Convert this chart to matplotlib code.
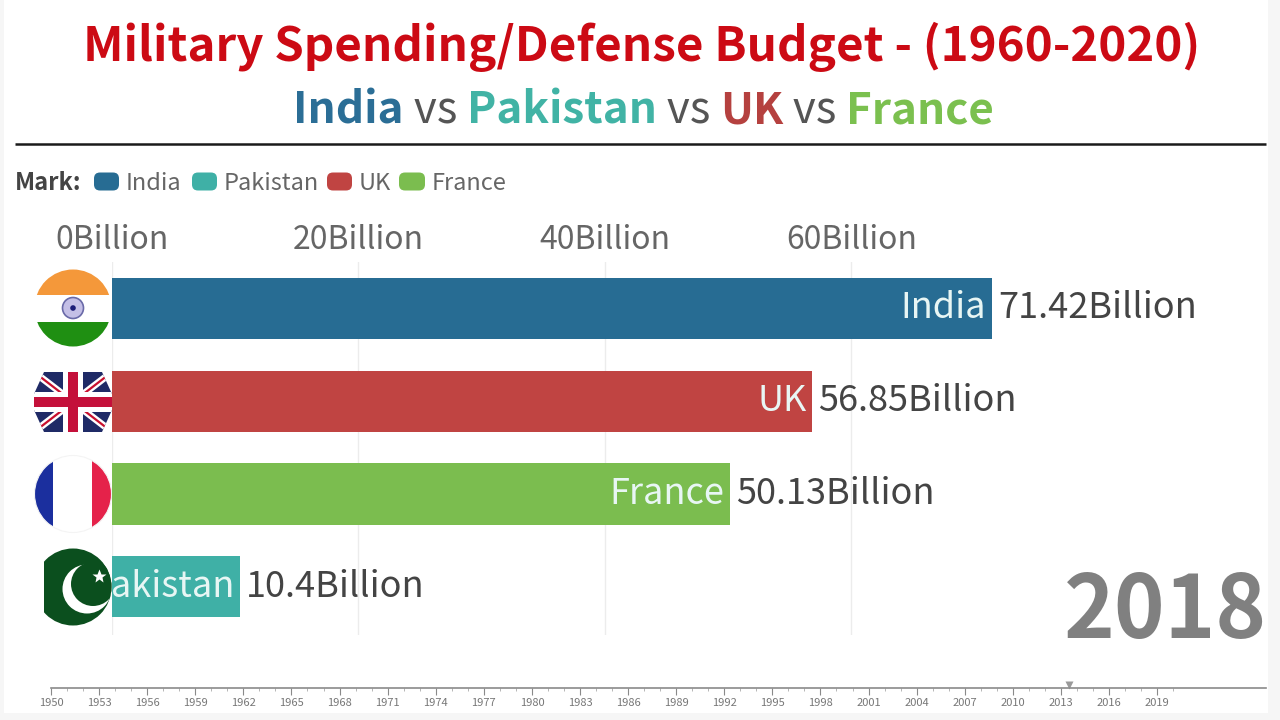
import matplotlib
matplotlib.use('Agg')
import matplotlib.pyplot as plt
from matplotlib.patches import Circle, FancyBboxPatch, Polygon, Rectangle

FONT = ['Noto Sans CJK SC', 'DejaVu Sans']
plt.rcParams['font.family'] = FONT

countries = ['India', 'UK', 'France', 'Pakistan']
spending = [71.42, 56.85, 50.13, 10.4]
value_labels = ['71.42Billion', '56.85Billion', '50.13Billion', '10.4Billion']
bar_colors = ['#276C93', '#C04442', '#7BBD4F', '#3FB0A6']

legend_names = ['India', 'Pakistan', 'UK', 'France']
legend_colors = ['#276C93', '#3FB0A6', '#C04442', '#7BBD4F']

axis_ticks = [0, 20, 40, 60]
axis_labels = ['0Billion', '20Billion', '40Billion', '60Billion']

timeline_years = list(range(1950, 2021, 3))
timeline_minor = list(range(1950, 2021))
timeline_pointer = 2013.5
current_year = '2018'

W, H = 1280, 720


def px_axes(fig, left, top, right, bottom, **kw):
    return fig.add_axes([left / W, 1 - bottom / H, (right - left) / W, (bottom - top) / H], **kw)


fig = plt.figure(figsize=(W / 100, H / 100), dpi=100, facecolor='#f6f6f6')

# overlay in pixel coordinates for the title block, legend and flags
bg = fig.add_axes([0, 0, 1, 1])
bg.set_xlim(0, W)
bg.set_ylim(H, 0)
bg.axis('off')
bg.add_patch(Rectangle((4, 0), 1264, 713, fc='white', ec='none'))

bg.text(642, 47, 'Military Spending/Defense Budget - (1960-2020)', ha='center', va='center',
        fontsize=34.2, fontweight='bold', color='#CC0A14')

# subtitle is built piece by piece so each word keeps its own colour
pieces = [('India', '#2B6E96', 'bold'), (' vs ', '#555555', 'normal'),
          ('Pakistan', '#41B3A5', 'bold'), (' vs ', '#555555', 'normal'),
          ('UK', '#B5413F', 'bold'), (' vs ', '#555555', 'normal'),
          ('France', '#7BC04F', 'bold')]
x = 293
for word, color, weight in pieces:
    t = bg.text(x, 110, word.replace(' ', '\u00a0'), ha='left', va='center', fontsize=31.7,
                fontweight=weight, color=color)
    fig.canvas.draw()
    x += t.get_window_extent().width

bg.plot([15, 1266], [144, 144], color='#1a1a1a', lw=1.8, solid_capstyle='butt')

# legend row
bg.text(15, 183, 'Mark:', ha='left', va='center', fontsize=17, fontweight='bold', color='#444444')
swatch_x = [94, 192, 327, 399]
swatch_w = [25, 25, 25, 26]
for sx, sw, name, color in zip(swatch_x, swatch_w, legend_names, legend_colors):
    bg.add_patch(FancyBboxPatch((sx, 172.5), sw, 18, boxstyle='round,pad=0,rounding_size=6',
                                fc=color, ec='none'))
    bg.text(sx + sw + 7, 183, name, ha='left', va='center', fontsize=17, color='#666666')

# main bar chart
ax = px_axes(fig, 112, 262, 1266, 635, facecolor='none')
positions = list(range(len(countries)))
bars = ax.barh(positions, spending, height=0.66, color=bar_colors, zorder=3)
ax.set_xlim(0, (1266 - 112) / 12.32)
ax.set_ylim(3.52, -0.5)
ax.set_yticks([])
ax.xaxis.tick_top()
ax.set_xticks(axis_ticks)
ax.set_xticklabels(axis_labels, fontsize=23, color='#666666')
ax.tick_params(axis='x', length=0, pad=4)
ax.grid(axis='x', color='#ececec', lw=1, zorder=0)
for spine in ax.spines.values():
    spine.set_visible(False)

for bar, pos, name, value, label in zip(bars, positions, countries, spending, value_labels):
    t = ax.text(value - 0.45, pos, name, ha='right', va='center', fontsize=26,
                color='#e8f6f4', zorder=4, clip_on=True)
    t.set_clip_path(bar)
    ax.text(value + 0.5, pos, label, ha='left', va='center', fontsize=26,
            color='#444444', zorder=4)

bg.text(1267, 613, current_year, ha='right', va='center', fontsize=62, fontweight='bold',
        color='#808080')


def flag_circle(cy, cx=73, r=38.5):
    return Circle((cx, cy), r, transform=bg.transData)


def add_clipped(patch, clip, zorder=1):
    patch.set_zorder(zorder)
    bg.add_patch(patch)
    patch.set_clip_path(clip)


# India
clip = flag_circle(308)
add_clipped(Rectangle((30, 265), 90, 30, fc='#F4983A', ec='none'), clip)
add_clipped(Rectangle((30, 295), 90, 27, fc='white', ec='none'), clip)
add_clipped(Rectangle((30, 322), 90, 30, fc='#1F8F12', ec='none'), clip)
bg.add_patch(Circle((73, 308), 10.5, fc='#c4bfe6', ec='#6a6aa8', lw=1.2))
bg.add_patch(Circle((73, 308), 2.8, fc='#1c1c78', ec='none'))

# UK, the field is cut to a flattened octagon
top, bot = 372, 432
clip = Polygon([(44, top), (102, top), (112, 394), (112, 410), (102, bot), (44, bot), (34, 410), (34, 394)],
               transform=bg.transData)
add_clipped(Rectangle((30, top), 90, bot - top, fc='#1F2A66', ec='none'), clip)
for (x0, y0, x1, y1) in [(34, top, 112, bot), (34, bot, 112, top)]:
    line, = bg.plot([x0, x1], [y0, y1], color='white', lw=5, solid_capstyle='butt', zorder=1.1)
    line.set_clip_path(clip)
    line, = bg.plot([x0, x1], [y0, y1], color='#C8102E', lw=1.6, solid_capstyle='butt', zorder=1.2)
    line.set_clip_path(clip)
add_clipped(Rectangle((63, top), 20, bot - top, fc='white', ec='none'), clip, 1.3)
add_clipped(Rectangle((30, 392), 90, 20, fc='white', ec='none'), clip, 1.3)
add_clipped(Rectangle((68, top), 10, bot - top, fc='#C4103A', ec='none'), clip, 1.4)
add_clipped(Rectangle((30, 397), 90, 10, fc='#C4103A', ec='none'), clip, 1.4)

# France, with a faint ring because the middle stripe is white
clip = flag_circle(494)
add_clipped(Rectangle((30, 450), 23, 90, fc='#1B2F9E', ec='none'), clip)
add_clipped(Rectangle((53, 450), 39, 90, fc='white', ec='none'), clip)
add_clipped(Rectangle((92, 450), 25, 90, fc='#E5224A', ec='none'), clip)
bg.add_patch(Circle((73, 494), 38.5, fc='none', ec='#f4f4f4', lw=0.8, zorder=1.1))

# Pakistan
clip = flag_circle(587)
add_clipped(Rectangle((44, 545), 75, 85, fc='#0B4F1E', ec='none'), clip)
add_clipped(Circle((87, 589), 24.5, fc='white', ec='none'), clip, 1.1)
add_clipped(Circle((93, 584), 22, fc='#0B4F1E', ec='none'), clip, 1.2)
bg.plot([99], [576], marker='*', ms=10, color='white', mec='none', ls='none', zorder=1.3)

# year slider along the bottom
tl = px_axes(fig, 51, 660, 1266, 688, facecolor='none')
tl.set_xlim(1950, 1950 + (1266 - 51) / 16.03)
tl.set_ylim(0, 1)
tl.set_yticks([])
for name in ['top', 'left', 'right']:
    tl.spines[name].set_visible(False)
tl.spines['bottom'].set_color('#8a8a8a')
tl.spines['bottom'].set_linewidth(1.2)
tl.set_xticks(timeline_years)
tl.set_xticklabels([str(y) for y in timeline_years], fontsize=8, color='#777777')
tl.set_xticks(timeline_minor, minor=True)
tl.tick_params(axis='x', which='major', length=5, width=0.8, color='#8a8a8a', pad=2)
tl.tick_params(axis='x', which='minor', length=2, width=0.6, color='#aaaaaa')
tl.plot([timeline_pointer], [0.12], marker='v', ms=6, color='#9a9a9a', mec='none', clip_on=False)

fig.savefig('out.png', dpi=100, facecolor=fig.get_facecolor())
